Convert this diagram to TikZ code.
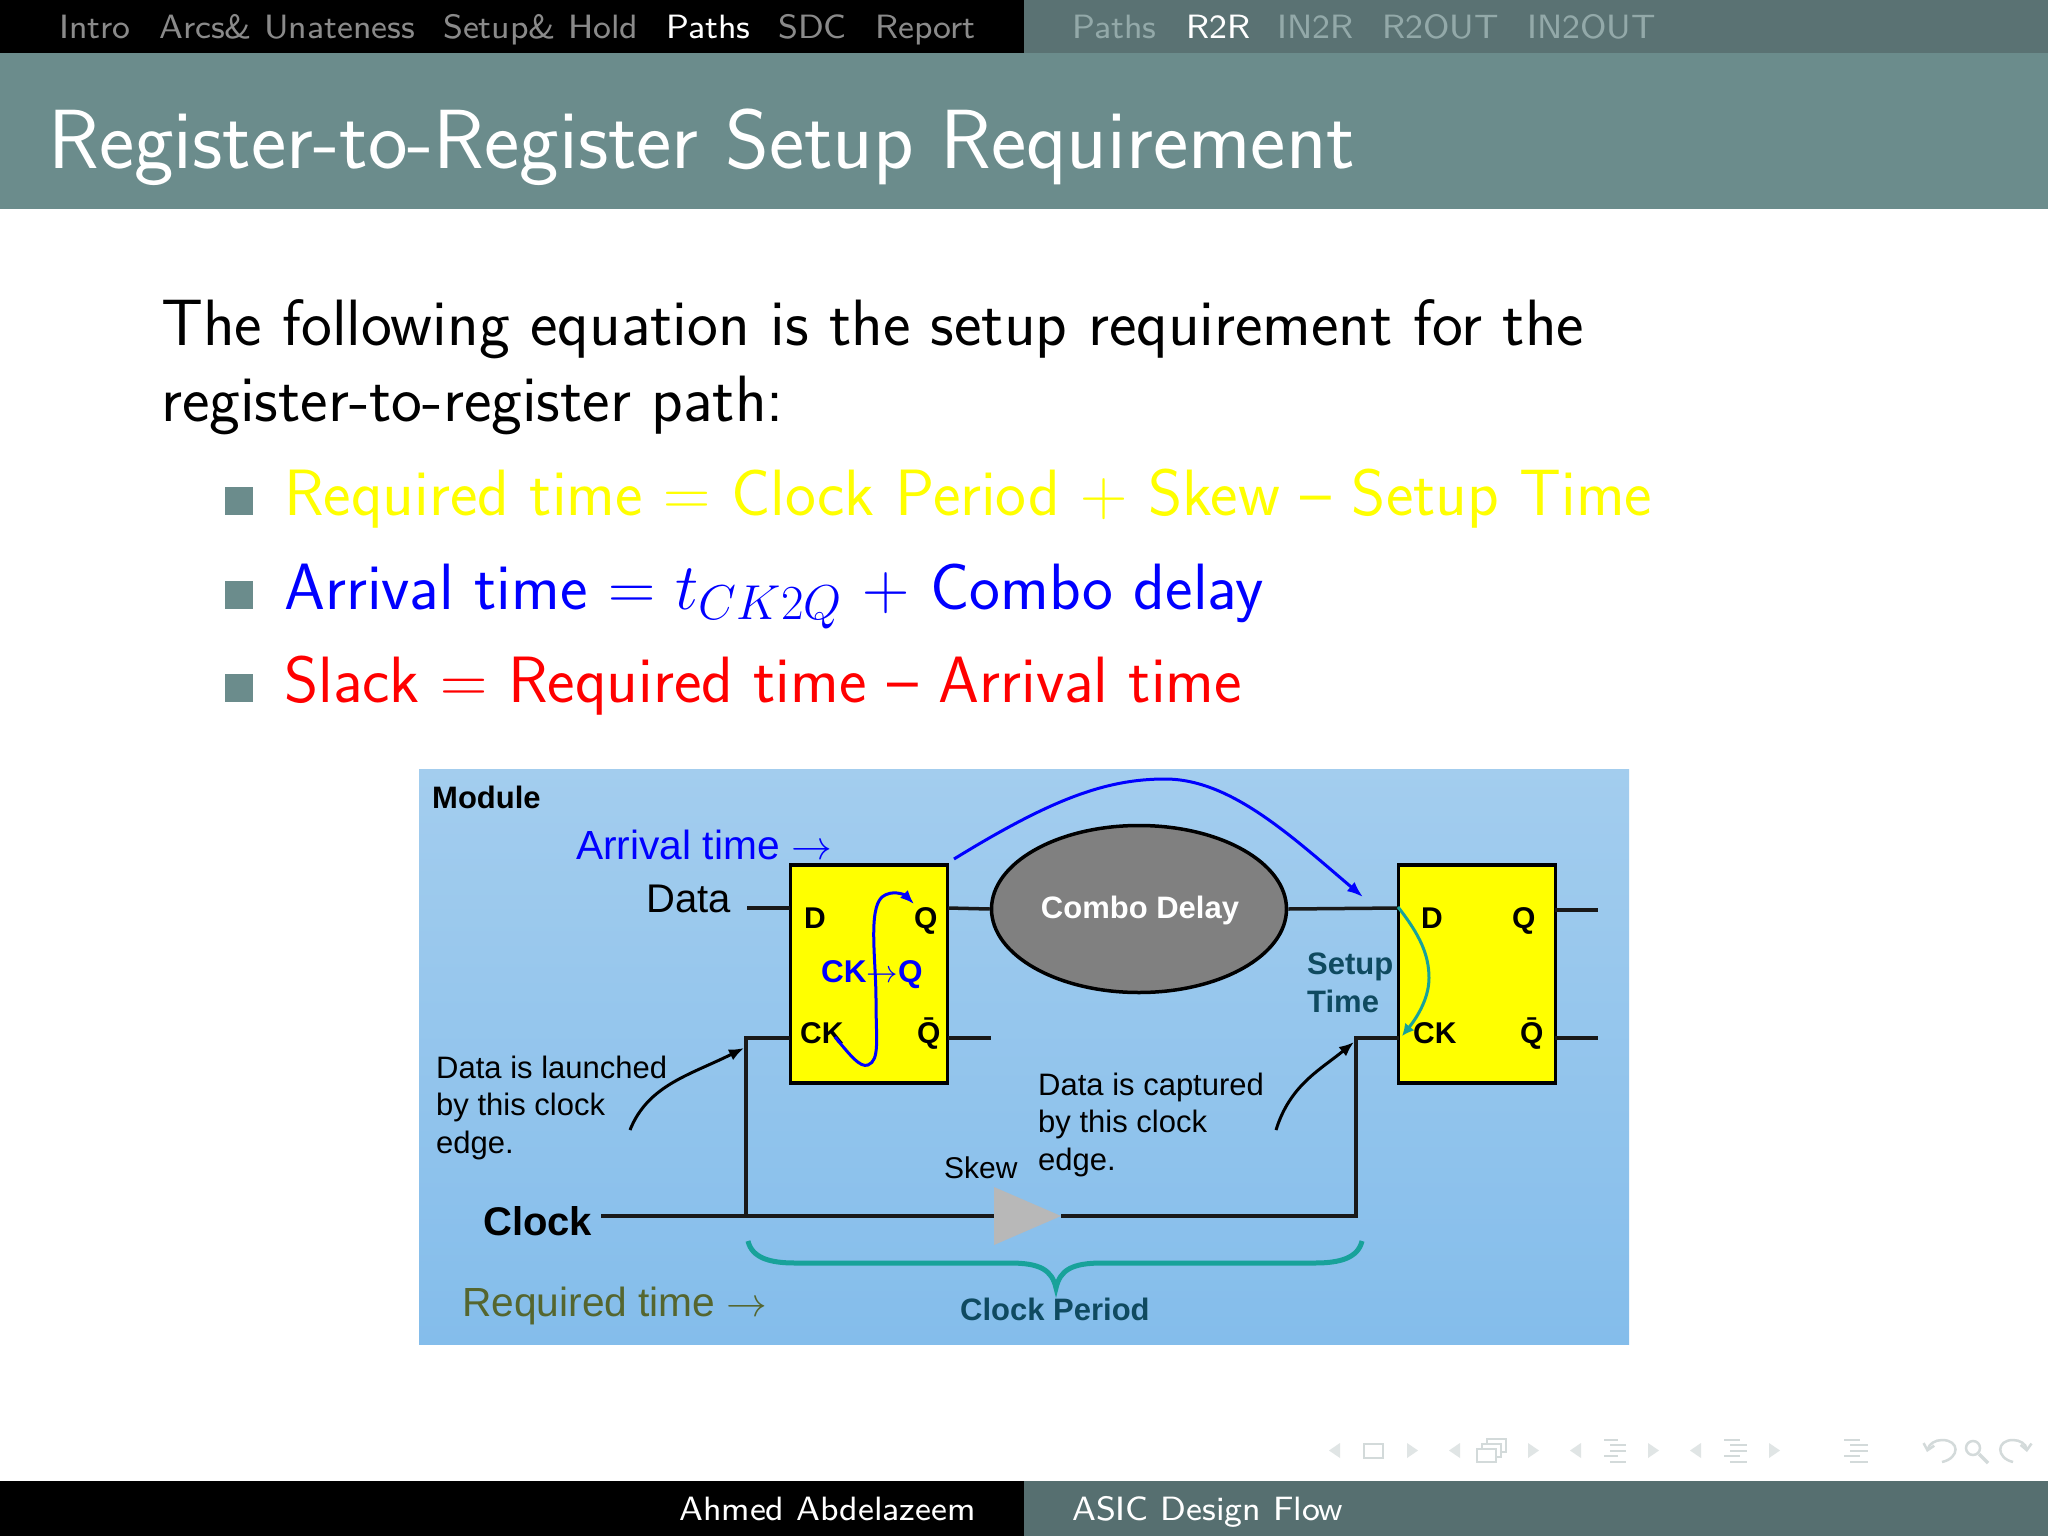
\documentclass[tikz,border=0pt]{standalone}
\usepackage{fix-cm}
\usepackage{fontspec}
\newfontfamily\arialfont{Liberation Sans}
\newfontfamily\navfont{lmsans8-regular.otf}
\DeclareMathSizes{65.5}{65.5}{49}{39}
\usetikzlibrary{arrows.meta,shapes.geometric}
\definecolor{bandcolor}{HTML}{6B8C8C}
\definecolor{navdark}{HTML}{5A7273}
\definecolor{footdark}{HTML}{566F70}
\definecolor{navgrey}{HTML}{8A8A8A}
\definecolor{navpale}{HTML}{93A9A9}
\definecolor{iconpale}{HTML}{E0E5E5}
\definecolor{iconmid}{HTML}{D3DADA}
\definecolor{brightyellow}{HTML}{FFFF00}
\definecolor{teallabel}{HTML}{0F4A60}
\definecolor{tealline}{HTML}{18A29A}
\definecolor{olivelabel}{HTML}{55662F}
\definecolor{figtop}{HTML}{A3CDEE}
\definecolor{figbot}{HTML}{84BDEB}
\tikzset{
	txt/.style={anchor=base west,inner sep=0pt},
	navitem/.style={txt,font=\navfont\fontsize{33.7}{36}\selectfont},
	bodyline/.style={txt,font=\sffamily\fontsize{65.5}{66}\selectfont},
	bulletbox/.style={fill=bandcolor,inner sep=0pt,minimum width=28pt,minimum height=28pt},
	bigfig/.style={txt,font=\arialfont\fontsize{40.7}{46}\selectfont},
	smallfig/.style={txt,font=\arialfont\fontsize{31}{37.5}\selectfont,align=left},
	pinlabel/.style={txt,font=\arialfont\bfseries\fontsize{30}{36}\selectfont},
	ffbox/.style={draw=black,fill=brightyellow,line width=3.5pt,minimum width=157pt,minimum height=218pt,inner sep=0pt},
	wire/.style={line width=3.5pt,draw=black!90},
	iconfill/.style={fill=iconpale,draw=none},
	iconline/.style={draw=iconmid,line width=2.5pt}
}
\begin{document}
\begin{tikzpicture}[x=1pt,y=-1pt]
	\useasboundingbox (0,0) rectangle (2048,1536);
	%bars
	\fill[white] (0,0) rectangle (2048,1536);
	\fill[black] (0,0) rectangle (1024,53);
	\fill[navdark] (1024,0) rectangle (2048,53);
	\fill[bandcolor] (0,53) rectangle (2048,209);
	\fill[black] (0,1481) rectangle (1024,1536);
	\fill[footdark] (1024,1481) rectangle (2048,1536);

	%nav labels
	\node[navitem,navgrey] (navintro) at (59,39) {Intro};
	\node[navitem,navgrey] (navarcs) at (159,39) {Arcs\& Unateness};
	\node[navitem,navgrey] (navsetup) at (443,39) {Setup\& Hold};
	\node[navitem,white] (navpaths) at (666,39) {Paths};
	\node[navitem,navgrey] (navsdc) at (778,39) {SDC};
	\node[navitem,navgrey] (navreport) at (875,39) {Report};
	\node[navitem,navpale] (subpaths) at (1072,39) {Paths};
	\node[navitem,white] (subrr) at (1186,39) {R2R};
	\node[navitem,navpale] (subinr) at (1277,39) {IN2R};
	\node[navitem,navpale] (subrout) at (1382,39) {R2OUT};
	\node[navitem,navpale] (subinout) at (1527,39) {IN2OUT};

	%title
	\node[txt,white,font=\sffamily\fontsize{84}{84}\selectfont] (title) at (48,168) {Register-to-Register Setup Requirement};

	%body text
	\node[bodyline] (lineone) at (161,345) {The following equation is the setup requirement for the};
	\node[bodyline] (linetwo) at (161,421) {register-to-register path:};
	\node[bulletbox] (bulletone) at (239,501) {};
	\node[bulletbox] (bullettwo) at (239,595) {};
	\node[bulletbox] (bulletthree) at (239,688) {};
	\node[bodyline,brightyellow] (required) at (284,515) {Required time $=$ Clock Period $+$ Skew -- Setup Time};
	\node[bodyline,blue] (arrival) at (284,609) {Arrival time $=$ $t_{CK2Q}$ $+$ Combo delay};
	\node[bodyline,red] (slack) at (284,702) {Slack $=$ Required time -- Arrival time};

	%figure background
	\shade[top color=figtop,bottom color=figbot] (419,769) rectangle (1629,1344);

	%flip-flops and combo cloud
	\node[ffbox] (ffa) at (869,974) {};
	\node[ffbox] (ffb) at (1477,974) {};
	\node[ellipse,draw=black,fill=black!50,line width=3.5pt,minimum width=295pt,minimum height=167pt,inner sep=0pt] (combo) at (1139,909) {};
	\node[font=\arialfont\bfseries\fontsize{31}{36}\selectfont,white,inner sep=0pt] (combotext) at (1140,910) {Combo Delay};

	%pin points
	\coordinate (dataend) at (747,908);
	\coordinate (ffad) at (790,908);
	\coordinate (ffaq) at (948,908);
	\coordinate (ffack) at (790,1038);
	\coordinate (ffanq) at (948,1038);
	\coordinate (ffanqend) at (991,1038);
	\coordinate (ffbd) at (1399,908);
	\coordinate (ffbq) at (1555,910);
	\coordinate (ffbqend) at (1598,910);
	\coordinate (ffbck) at (1399,1038);
	\coordinate (ffbnq) at (1555,1038);
	\coordinate (ffbnqend) at (1598,1038);
	\coordinate (clockstart) at (601,1216);
	\coordinate (clockfork) at (746,1216);
	\coordinate (clockturn) at (1356,1216);

	%skew buffer
	\coordinate (skewtop) at (994,1187);
	\coordinate (skewbot) at (994,1245);
	\coordinate (skewtip) at (1061,1216);
	\coordinate (skewin) at (994,1216);
	\fill[black!28] (skewtop) -- (skewtip) -- (skewbot) -- cycle;

	%wires
	\draw[wire] (dataend) -- (ffad);
	\draw[wire] (ffaq) -- (combo.west);
	\draw[wire] (combo.east) -- (ffbd);
	\draw[wire] (ffanq) -- (ffanqend);
	\draw[wire] (ffbq) -- (ffbqend);
	\draw[wire] (ffbnq) -- (ffbnqend);
	\draw[wire] (clockstart) -- (skewin);
	\draw[wire] (clockfork) |- (ffack);
	\draw[wire] (skewtip) -- (clockturn) |- (ffbck);

	%pin labels
	\node[pinlabel] (lblad) at (804,928) {D};
	\node[pinlabel] (lblaq) at (914,928) {Q};
	\node[pinlabel] (lblack) at (800,1043) {CK};
	\node[pinlabel] (lblanq) at (917,1043) {\=Q};
	\node[pinlabel,blue,font=\arialfont\bfseries\fontsize{31.5}{36}\selectfont] (lblckq) at (821,982) {CK$\rightarrow$Q};
	\node[pinlabel] (lblbd) at (1421,928) {D};
	\node[pinlabel] (lblbq) at (1512,928) {Q};
	\node[pinlabel] (lblbck) at (1413,1043) {CK};
	\node[pinlabel] (lblbnq) at (1520,1043) {\=Q};

	%figure labels
	\node[txt,font=\arialfont\bfseries\fontsize{31}{36}\selectfont] (module) at (432,808) {Module};
	\node[bigfig,blue] (arrivalfig) at (576,859) {Arrival time $\rightarrow$};
	\node[bigfig,font=\arialfont\fontsize{40}{46}\selectfont] (datalabel) at (646,912) {Data};
	\node[bigfig,font=\arialfont\bfseries\fontsize{40}{46}\selectfont] (clocklabel) at (483,1235) {Clock};
	\node[bigfig,olivelabel] (requiredfig) at (462,1316) {Required time $\rightarrow$};
	\node[smallfig] (launchnote) at (436,1153) {Data is launched\\by this clock\\edge.};
	\node[smallfig] (capturenote) at (1038,1170) {Data is captured\\by this clock\\edge.};
	\node[smallfig,font=\arialfont\fontsize{30}{36}\selectfont] (skewlabel) at (944,1178) {Skew};
	\node[pinlabel,teallabel,align=left,font=\arialfont\bfseries\fontsize{31}{38}\selectfont] (setuplabel) at (1307,1012) {Setup\\Time};
	\node[pinlabel,teallabel,font=\arialfont\bfseries\fontsize{31}{36}\selectfont] (periodlabel) at (960,1320) {Clock Period};

	%notes arrows
	\coordinate (launchtail) at (630,1130);
	\coordinate (launchhead) at (744,1048);
	\coordinate (capturetail) at (1276,1130);
	\coordinate (capturehead) at (1354,1042);
	\draw[line width=3pt,-{Latex[length=15pt,width=12pt]}] (launchtail) .. controls (648,1085) and (690,1075) .. (launchhead);
	\draw[line width=3pt,-{Latex[length=15pt,width=12pt]}] (capturetail) .. controls (1290,1085) and (1320,1070) .. (capturehead);

	%timing curves
	\coordinate (arrstart) at (954,859);
	\coordinate (arrtop) at (1165,779);
	\coordinate (arrend) at (1363,897);
	\draw[blue,line width=3pt,-{Latex[length=16pt,width=12pt]}] (arrstart) .. controls (1050,800) and (1105,779) .. (arrtop) .. controls (1230,779) and (1290,835) .. (arrend);
	\coordinate (ckqstart) at (835,1037);
	\coordinate (ckqend) at (914,904);
	\draw[blue,line width=3pt,-{Latex[length=14pt,width=11pt]}] (ckqstart) .. controls (850,1055) and (860,1068) .. (868,1065) .. controls (880,1060) and (876,1040) .. (876,1000) .. controls (876,960) and (868,910) .. (882,897) .. controls (892,889) and (905,895) .. (ckqend);
	\coordinate (setupstart) at (1398,907);
	\coordinate (setupend) at (1402,1036);
	\draw[tealline,line width=3pt,-{Latex[length=12pt,width=12pt]}] (setupstart) .. controls (1420,935) and (1429,955) .. (1429,978) .. controls (1429,1000) and (1415,1020) .. (setupend);

	%brace
	\coordinate (braceleft) at (748,1241);
	\coordinate (braceright) at (1362,1241);
	\coordinate (bracetip) at (1056,1288);
	\draw[tealline,line width=5pt] (braceleft) .. controls (752,1258) and (770,1263) .. (795,1263) -- (1010,1263) .. controls (1040,1263) and (1052,1270) .. (bracetip) .. controls (1060,1270) and (1072,1263) .. (1102,1263) -- (1315,1263) .. controls (1340,1263) and (1358,1258) .. (braceright);

	%navigation icons
	\fill[iconfill] (1340,1443) -- (1329,1450.5) -- (1340,1458) -- cycle; %slide left
	\draw[iconline] (1364,1444) rectangle (1383,1458); %slide box
	\fill[iconfill] (1407,1443) -- (1418,1450.5) -- (1407,1458) -- cycle; %slide right
	\fill[iconfill] (1460,1443) -- (1449,1450.5) -- (1460,1458) -- cycle; %frame left
	\draw[iconline] (1487,1439) rectangle (1506,1452); %frame stack
	\draw[iconline,fill=white] (1482,1444) rectangle (1501,1457);
	\draw[iconline,fill=white] (1477,1449) rectangle (1496,1462);
	\fill[iconfill] (1528,1443) -- (1539,1450.5) -- (1528,1458) -- cycle; %frame right
	\fill[iconfill] (1581,1443) -- (1570,1450.5) -- (1581,1458) -- cycle; %subsection left
	\draw[iconline] (1604,1440) -- (1618,1440) (1610,1445) -- (1626,1445) (1610,1451) -- (1626,1451) (1604,1456) -- (1618,1456) (1610,1462) -- (1626,1462);
	\fill[iconfill] (1648,1443) -- (1659,1450.5) -- (1648,1458) -- cycle; %subsection right
	\fill[iconfill] (1701,1443) -- (1690,1450.5) -- (1701,1458) -- cycle; %section left
	\draw[iconline] (1724,1440) -- (1740,1440) (1730,1445) -- (1747,1445) (1730,1451) -- (1747,1451) (1724,1456) -- (1740,1456) (1730,1462) -- (1747,1462);
	\fill[iconfill] (1769,1443) -- (1780,1450.5) -- (1769,1458) -- cycle; %section right
	\draw[iconline] (1844,1440) -- (1860,1440) (1850,1445) -- (1868,1445) (1850,1451) -- (1868,1451) (1844,1456) -- (1860,1456) (1850,1462) -- (1868,1462); %contents
	\draw[iconline,-{Straight Barb[length=6pt,width=11pt]}] (1942,1462) .. controls (1960,1458) and (1960,1440) .. (1942,1440) .. controls (1935,1440) and (1929,1444) .. (1927,1452); %back
	\draw[iconline] (1973,1448) circle (7);
	\draw[iconline,line width=3.5pt] (1979,1454) -- (1988,1463); %find
	\draw[iconline,-{Straight Barb[length=6pt,width=11pt]}] (2013,1462) .. controls (1996,1458) and (1996,1440) .. (2013,1440) .. controls (2020,1440) and (2026,1444) .. (2027,1452); %forward

	%footer
	\node[navitem,white] (footname) at (679,1520) {Ahmed Abdelazeem};
	\node[navitem,white] (foottitle) at (1072,1520) {ASIC Design Flow};
\end{tikzpicture}
\end{document}
